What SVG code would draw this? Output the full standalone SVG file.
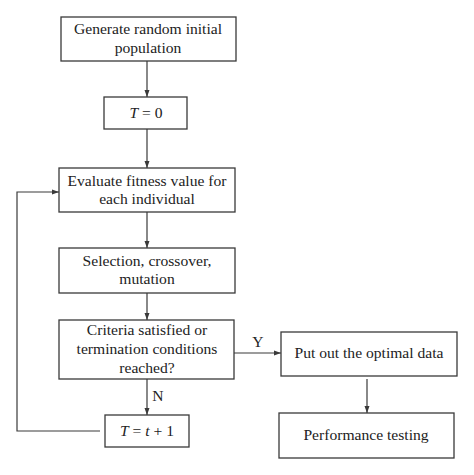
<svg xmlns="http://www.w3.org/2000/svg" width="474" height="475" viewBox="0 0 474 475">
<style>
.box{fill:#fff;stroke:#3a3a3a;stroke-width:1.3}
.t{font-family:"Liberation Serif","Times New Roman",serif;font-size:15.6px;fill:#222;text-anchor:middle}
.i{font-style:italic}
.c{fill:none;stroke:#3a3a3a;stroke-width:1.2}
</style>
<defs>
<marker id="ah" markerWidth="8" markerHeight="6" refX="7" refY="3" orient="auto" markerUnits="userSpaceOnUse">
<path d="M0,0.5 L7,3 L0,5.5 Z" fill="#3a3a3a"/>
</marker>
</defs>
<rect width="474" height="475" fill="#fff"/>
<g id="connectors">
<line class="c" x1="147" y1="61" x2="147" y2="97" marker-end="url(#ah)"/>
<line class="c" x1="147" y1="129" x2="147" y2="168" marker-end="url(#ah)"/>
<line class="c" x1="147" y1="212" x2="147" y2="248" marker-end="url(#ah)"/>
<line class="c" x1="147" y1="293" x2="147" y2="320" marker-end="url(#ah)"/>
<line class="c" x1="147" y1="379" x2="147" y2="415" marker-end="url(#ah)"/>
<polyline class="c" points="100,431 17,431 17,192 59,192" marker-end="url(#ah)"/>
<line class="c" x1="234" y1="353" x2="281" y2="353" marker-end="url(#ah)"/>
<line class="c" x1="367" y1="379" x2="367" y2="413" marker-end="url(#ah)"/>
<text class="t" x="158" y="401">N</text>
<text class="t" x="258" y="347">Y</text>
</g>
<g id="n1"><rect class="box" x="61" y="17" width="175" height="44"/>
<text class="t" x="148" y="34">Generate random initial</text><text class="t" x="148" y="53">population</text></g>
<g id="n2"><rect class="box" x="104" y="97" width="83" height="32"/>
<text class="t" x="146" y="118"><tspan class="i">T</tspan> = 0</text></g>
<g id="n3"><rect class="box" x="59" y="168" width="176" height="44"/>
<text class="t" x="147" y="186">Evaluate fitness value for</text><text class="t" x="147" y="204">each individual</text></g>
<g id="n4"><rect class="box" x="59" y="248" width="176" height="45"/>
<text class="t" x="147" y="266">Selection, crossover,</text><text class="t" x="147" y="284">mutation</text></g>
<g id="n5"><rect class="box" x="59" y="320" width="175" height="59"/>
<text class="t" x="147" y="335">Criteria satisfied or</text><text class="t" x="147" y="354">termination conditions</text><text class="t" x="147" y="373">reached?</text></g>
<g id="n6"><rect class="box" x="105" y="415" width="84" height="32"/>
<text class="t" x="147" y="436"><tspan class="i">T</tspan> = <tspan class="i">t</tspan> + 1</text></g>
<g id="n7"><rect class="box" x="281" y="332" width="176" height="44"/>
<text class="t" x="369" y="358">Put out the optimal data</text></g>
<g id="n8"><rect class="box" x="279" y="413" width="175" height="45"/>
<text class="t" x="366" y="440">Performance testing</text></g>
</svg>
